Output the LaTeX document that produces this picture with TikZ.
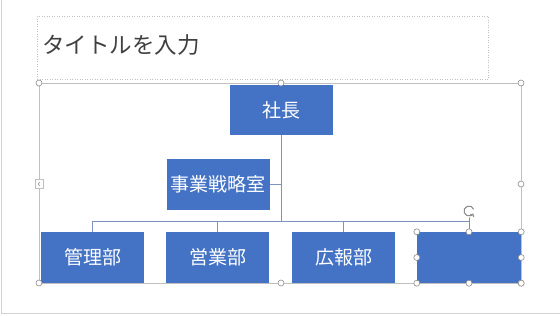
\documentclass[tikz,border=0pt]{standalone}
\usepackage{fontspec}
\setmainfont{Noto Sans CJK JP}
\usetikzlibrary{arrows.meta}
\definecolor{boxblue}{HTML}{4472C4}
\definecolor{connc}{HTML}{7E93C0}
\definecolor{framegray}{HTML}{C0C0C0}
\definecolor{handlegray}{HTML}{8C8C8C}
\definecolor{titlegray}{HTML}{404040}
\begin{document}
\begin{tikzpicture}[x=1pt,y=-1pt,
  box/.style={fill=boxblue, draw=none, text=white, font=\fontsize{19}{22}\selectfont, minimum width=103pt, minimum height=51pt, inner sep=0pt},
  conn/.style={draw=connc, line width=0.9pt},
  selframe/.style={draw=framegray, line width=0.8pt},
  handle/.style={circle, draw=handlegray, fill=white, line width=0.6pt, minimum size=6pt, inner sep=0pt}]
\useasboundingbox (0,0) rectangle (560,316);
% slide edges
\draw[framegray!70, line width=0.8pt] (1.5,0) -- (1.5,313.5) -- (560,313.5);
% title placeholder
\node[draw=framegray, dotted, line width=0.5pt, minimum width=451pt, minimum height=63pt, inner sep=0pt, anchor=north west] (title) at (37,16) {};
\node[anchor=west, text=titlegray, font=\fontsize{22.5}{26}\selectfont, inner sep=0pt] (titletext) at (42,45) {タイトルを入力};
% selection frame
\coordinate (fNW) at (39,83);
\coordinate (fSE) at (521,283);
\draw[selframe] (fNW) rectangle (fSE);
% boxes
\node[box, minimum height=50pt] (ceo) at (281,110) {社長};
\node[box] (asst) at (218,184) {事業戦略室};
\node[box] (b1) at (92.5,257.5) {管理部};
\node[box] (b2) at (217.5,257.5) {営業部};
\node[box] (b3) at (343.5,257.5) {広報部};
\node[box, minimum width=104pt] (b4) at (469,257.5) {};
% connectors
\coordinate (bus) at (281,221);
\draw[conn] (ceo.south) -- (bus);
\draw[conn] (asst.east) -- (asst.east -| ceo.south);
\draw[conn] (b1.north) -- (b1.north |- bus) -- (b4.north |- bus) -- (b4.north);
\draw[conn] (b2.north) -- (b2.north |- bus);
\draw[conn] (b3.north) -- (b3.north |- bus);
% frame handles
\node[handle] (h1) at (39,83) {};
\node[handle] (h2) at (281,83) {};
\node[handle] (h3) at (521,83) {};
\node[handle] (h4) at (521,184) {};
\node[handle] (h5) at (39,283) {};
\node[handle] (h6) at (281,283) {};
\node[handle] (h7) at (521,283) {};
% left collapse icon
\node[draw=framegray, fill=white, line width=0.6pt, minimum width=8pt, minimum height=9pt, inner sep=0pt] (chev) at (39,184) {};
\draw[handlegray, line width=0.6pt] ([xshift=1pt,yshift=2pt]chev.center) -- ([xshift=-1pt]chev.center) -- ([xshift=1pt,yshift=-2pt]chev.center);
% selected box handles
\coordinate (rot) at (469,211);
\draw[handlegray, line width=0.6pt] (rot) -- (b4.north);
\node[handle] (s1) at (b4.north west) {};
\node[handle] (s2) at (b4.north) {};
\node[handle] (s3) at (b4.north east) {};
\node[handle] (s4) at (b4.west) {};
\node[handle] (s5) at (b4.east) {};
\node[handle] (s6) at (b4.south west) {};
\node[handle] (s7) at (b4.south) {};
\node[handle] (s8) at (b4.south east) {};
% rotation icon
\node[circle, fill=white, minimum size=13pt, inner sep=0pt] (roticon) at (rot) {};
\draw[handlegray, line width=1.1pt, -{Straight Barb[length=2pt]}] ([shift={(20:5pt)}]roticon.center) arc[start angle=20, end angle=330, radius=5pt];
\end{tikzpicture}
\end{document}
